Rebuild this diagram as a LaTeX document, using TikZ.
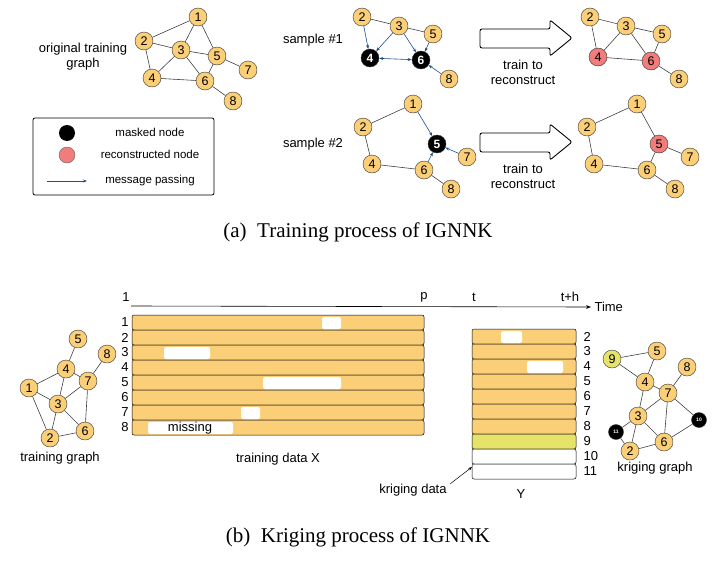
\documentclass[tikz,border=0pt]{standalone}
\usepackage{fontspec}
\setmainfont{Liberation Sans}
\newfontfamily\capfont{Liberation Serif}
\usetikzlibrary{arrows.meta}
\definecolor{org}{HTML}{FBCF78}
\definecolor{pnk}{HTML}{F07C7C}
\definecolor{ylw}{HTML}{E6E36A}
\definecolor{blu}{HTML}{1F4E8C}
\begin{document}
\begin{tikzpicture}[x=1pt,y=-1pt,
  nd/.style={circle,draw=black!80,fill=org,minimum size=18pt,inner sep=0pt,font=\fontsize{12.5}{12}\selectfont},
  mk/.style={nd,fill=black,text=white,font=\bfseries\fontsize{12}{12}\selectfont},
  mks/.style={nd,fill=black,text=white,minimum size=15pt,font=\bfseries\fontsize{5}{5}\selectfont},
  rc/.style={nd,fill=pnk},
  yn/.style={nd,fill=ylw},
  ed/.style={draw=black!75,line width=0.6pt},
  mp/.style={draw=blu,line width=0.6pt,-{Stealth[length=4pt]}},
  lab/.style={font=\fontsize{13}{15}\selectfont,align=center},
  lgt/.style={font=\fontsize{11.5}{13}\selectfont},
  bar/.style={draw=black,rounded corners=2pt,line width=0.5pt},
  hole/.style={fill=white,rounded corners=2pt,draw=none},
  big/.style={draw=black,fill=white,line width=0.9pt,rounded corners=2pt}]
\useasboundingbox (0,0) rectangle (717,562);
% original graph
\node[nd] (o1) at (198,17) {1}; \node[nd] (o2) at (144,41) {2}; \node[nd] (o3) at (181,50) {3};
\node[nd] (o5) at (217,56) {5}; \node[nd] (o7) at (248,70) {7}; \node[nd] (o4) at (152,78) {4};
\node[nd] (o6) at (205,81) {6}; \node[nd] (o8) at (233,101) {8};
\foreach \a/\b in {o1/o2,o1/o3,o1/o5,o2/o3,o2/o4,o3/o5,o3/o4,o3/o6,o5/o6,o5/o7,o4/o6,o6/o8} \draw[ed] (\a)--(\b);
\node[lab] (otl) at (83,57) {original training\\graph};
% legend
\node[draw=black,line width=0.8pt,rounded corners=2pt,minimum width=181pt,minimum height=77pt] (leg) at (123.5,156.5) {};
\node[circle,fill=black,minimum size=16pt,inner sep=0] (lg1) at (67,133) {};
\node[circle,fill=pnk,draw=black!60,minimum size=16pt,inner sep=0] (lg2) at (67,155) {};
\node[lgt] (lt1) at (150,132) {masked node};
\node[lgt] (lt2) at (150,154) {reconstructed node};
\node[lgt] (lt3) at (150,181) {message passing};
\coordinate (la) at (47,181); \coordinate (lb) at (87,181);
\draw[mp] (la)--(lb);
% sample 1
\node[lab] (s1) at (313,40) {sample \#1};
\node[nd] (a2) at (362,17) {2}; \node[nd] (a3) at (399,26) {3}; \node[nd] (a5) at (433,34) {5};
\node[mk] (a4) at (370,58) {4}; \node[mk] (a6) at (421,60) {6}; \node[nd] (a8) at (449,79) {8};
\draw[ed] (a2)--(a3); \draw[ed] (a3)--(a5);
\draw[mp] (a2)--(a4); \draw[mp] (a3)--(a4); \draw[mp] (a3)--(a6); \draw[mp] (a5)--(a6); \draw[mp] (a8)--(a6);
\draw[mp,{Stealth[length=4pt]}-{Stealth[length=4pt]}] (a4)--(a6);
\draw[big] (480,29) -- (550,29) -- (550,20) -- (572,38) -- (550,56) -- (550,48) -- (480,48) -- cycle;
\node[lab] (t1) at (523,72) {train to\\reconstruct};
\node[nd] (b2) at (590,17) {2}; \node[nd] (b3) at (626,26) {3}; \node[nd] (b5) at (662,34) {5};
\node[rc] (b4) at (598,57) {4}; \node[rc] (b6) at (651,61) {6}; \node[nd] (b8) at (679,79) {8};
\foreach \a/\b in {b2/b3,b2/b4,b3/b5,b3/b4,b3/b6,b5/b6,b4/b6,b6/b8} \draw[ed] (\a)--(\b);
% sample 2
\node[lab] (s2) at (313,144) {sample \#2};
\node[nd] (c1) at (413,104) {1}; \node[nd] (c2) at (363,127) {2}; \node[mk] (c5) at (437,144) {5};
\node[nd] (c4) at (372,164) {4}; \node[nd] (c7) at (467,157) {7}; \node[nd] (c6) at (424,170) {6};
\node[nd] (c8) at (451,189) {8};
\foreach \a/\b in {c1/c2,c2/c4,c4/c6,c6/c8} \draw[ed] (\a)--(\b);
\draw[mp] (c1)--(c5); \draw[mp] (c7)--(c5); \draw[mp] (c6)--(c5);
\draw[big] (480,133) -- (550,133) -- (550,124) -- (572,142) -- (550,160) -- (550,152) -- (480,152) -- cycle;
\node[lab] (t2) at (523,176) {train to\\reconstruct};
\node[nd] (d1) at (637,104) {1}; \node[nd] (d2) at (587,127) {2}; \node[rc] (d5) at (659,144) {5};
\node[nd] (d7) at (690,157) {7}; \node[nd] (d4) at (594,164) {4}; \node[nd] (d6) at (647,170) {6};
\node[nd] (d8) at (675,189) {8};
\foreach \a/\b in {d1/d2,d2/d4,d4/d6,d6/d8,d1/d5,d5/d7,d5/d6} \draw[ed] (\a)--(\b);
\node[font=\capfont\fontsize{21}{22}\selectfont] (capa) at (358,232) {(a)\ \ Training process of IGNNK};
% part b: time axis
\node[lab] (x1) at (126,297) {1}; \node[lab] (xp) at (424,297) {p};
\node[lab] (xt) at (474,297) {t}; \node[lab] (xth) at (570,297) {t+h};
\node[lab,anchor=west] (tm) at (591,307) {Time};
\coordinate (ax0) at (131,306);
\draw[line width=0.6pt,-{Stealth[length=5pt]}] (ax0) -- (tm.west);
% training data
\foreach \i in {1,...,8} {
  \draw[bar,fill=org] (132,{300+15*\i}) rectangle (424,{315+15*\i});
  \node[lab] (rl\i) at (125,{307.5+15*\i}) {\i};
}
\fill[hole] (322,317) rectangle (341,329);
\fill[hole] (164,347) rectangle (210,359);
\fill[hole] (263,377) rectangle (341,389);
\fill[hole] (241,407) rectangle (260,419);
\fill[hole] (148,422) rectangle (233,434);
\node[lab] (ms) at (190,428) {missing};
\node[lab] (tdx) at (278,459) {training data X};
% training graph
\node[nd] (g5) at (78,339) {5}; \node[nd] (g8) at (107,354) {8}; \node[nd] (g4) at (66,369) {4};
\node[nd] (g7) at (88,381) {7}; \node[nd] (g1) at (29,388) {1}; \node[nd] (g3) at (58,404) {3};
\node[nd] (g6) at (85,431) {6}; \node[nd] (g2) at (50,438) {2};
\foreach \a/\b in {g5/g4,g8/g7,g4/g7,g4/g1,g4/g3,g7/g3,g7/g6,g1/g3,g1/g2,g3/g2,g3/g6,g2/g6} \draw[ed] (\a)--(\b);
\node[lab] (tg) at (60,458) {training graph};
% Y table
\foreach \i/\c in {2/org,3/org,4/org,5/org,6/org,7/org,8/org,9/ylw,10/white,11/white} {
  \draw[bar,fill=\c] (472,{299+15*\i}) rectangle (576,{314+15*\i});
  \node[lab,anchor=west] (yl\i) at (580,{306.5+15*\i}) {\i};
}
\fill[hole] (501,331) rectangle (522,343);
\fill[hole] (527,361) rectangle (563,373);
\node[lab] (kd) at (413,490) {kriging data};
\coordinate (kdt) at (472,467);
\draw[line width=0.5pt,-{Stealth[length=4pt]}] (450,484) -- (kdt);
\node[lab] (yy) at (521,494) {Y};
% kriging graph
\node[yn] (k9) at (612,359) {9}; \node[nd] (k5) at (657,351) {5}; \node[nd] (k8) at (687,367) {8};
\node[nd] (k4) at (645,382) {4}; \node[nd] (k7) at (668,393) {7}; \node[nd] (k3) at (638,416) {3};
\node[mks] (k10) at (699,420) {10}; \node[mks] (k11) at (616,432) {11};
\node[nd] (k6) at (664,442) {6}; \node[nd] (k2) at (630,451) {2};
\foreach \a/\b in {k9/k5,k9/k4,k5/k4,k8/k7,k4/k7,k4/k3,k7/k3,k7/k6,k7/k10,k10/k6,k3/k6,k3/k2,k3/k11,k11/k2,k2/k6} \draw[ed] (\a)--(\b);
\node[lab] (kg) at (655,468) {kriging graph};
\node[font=\capfont\fontsize{21}{22}\selectfont] (capb) at (358,537) {(b)\ \ Kriging process of IGNNK};
\end{tikzpicture}
\end{document}
